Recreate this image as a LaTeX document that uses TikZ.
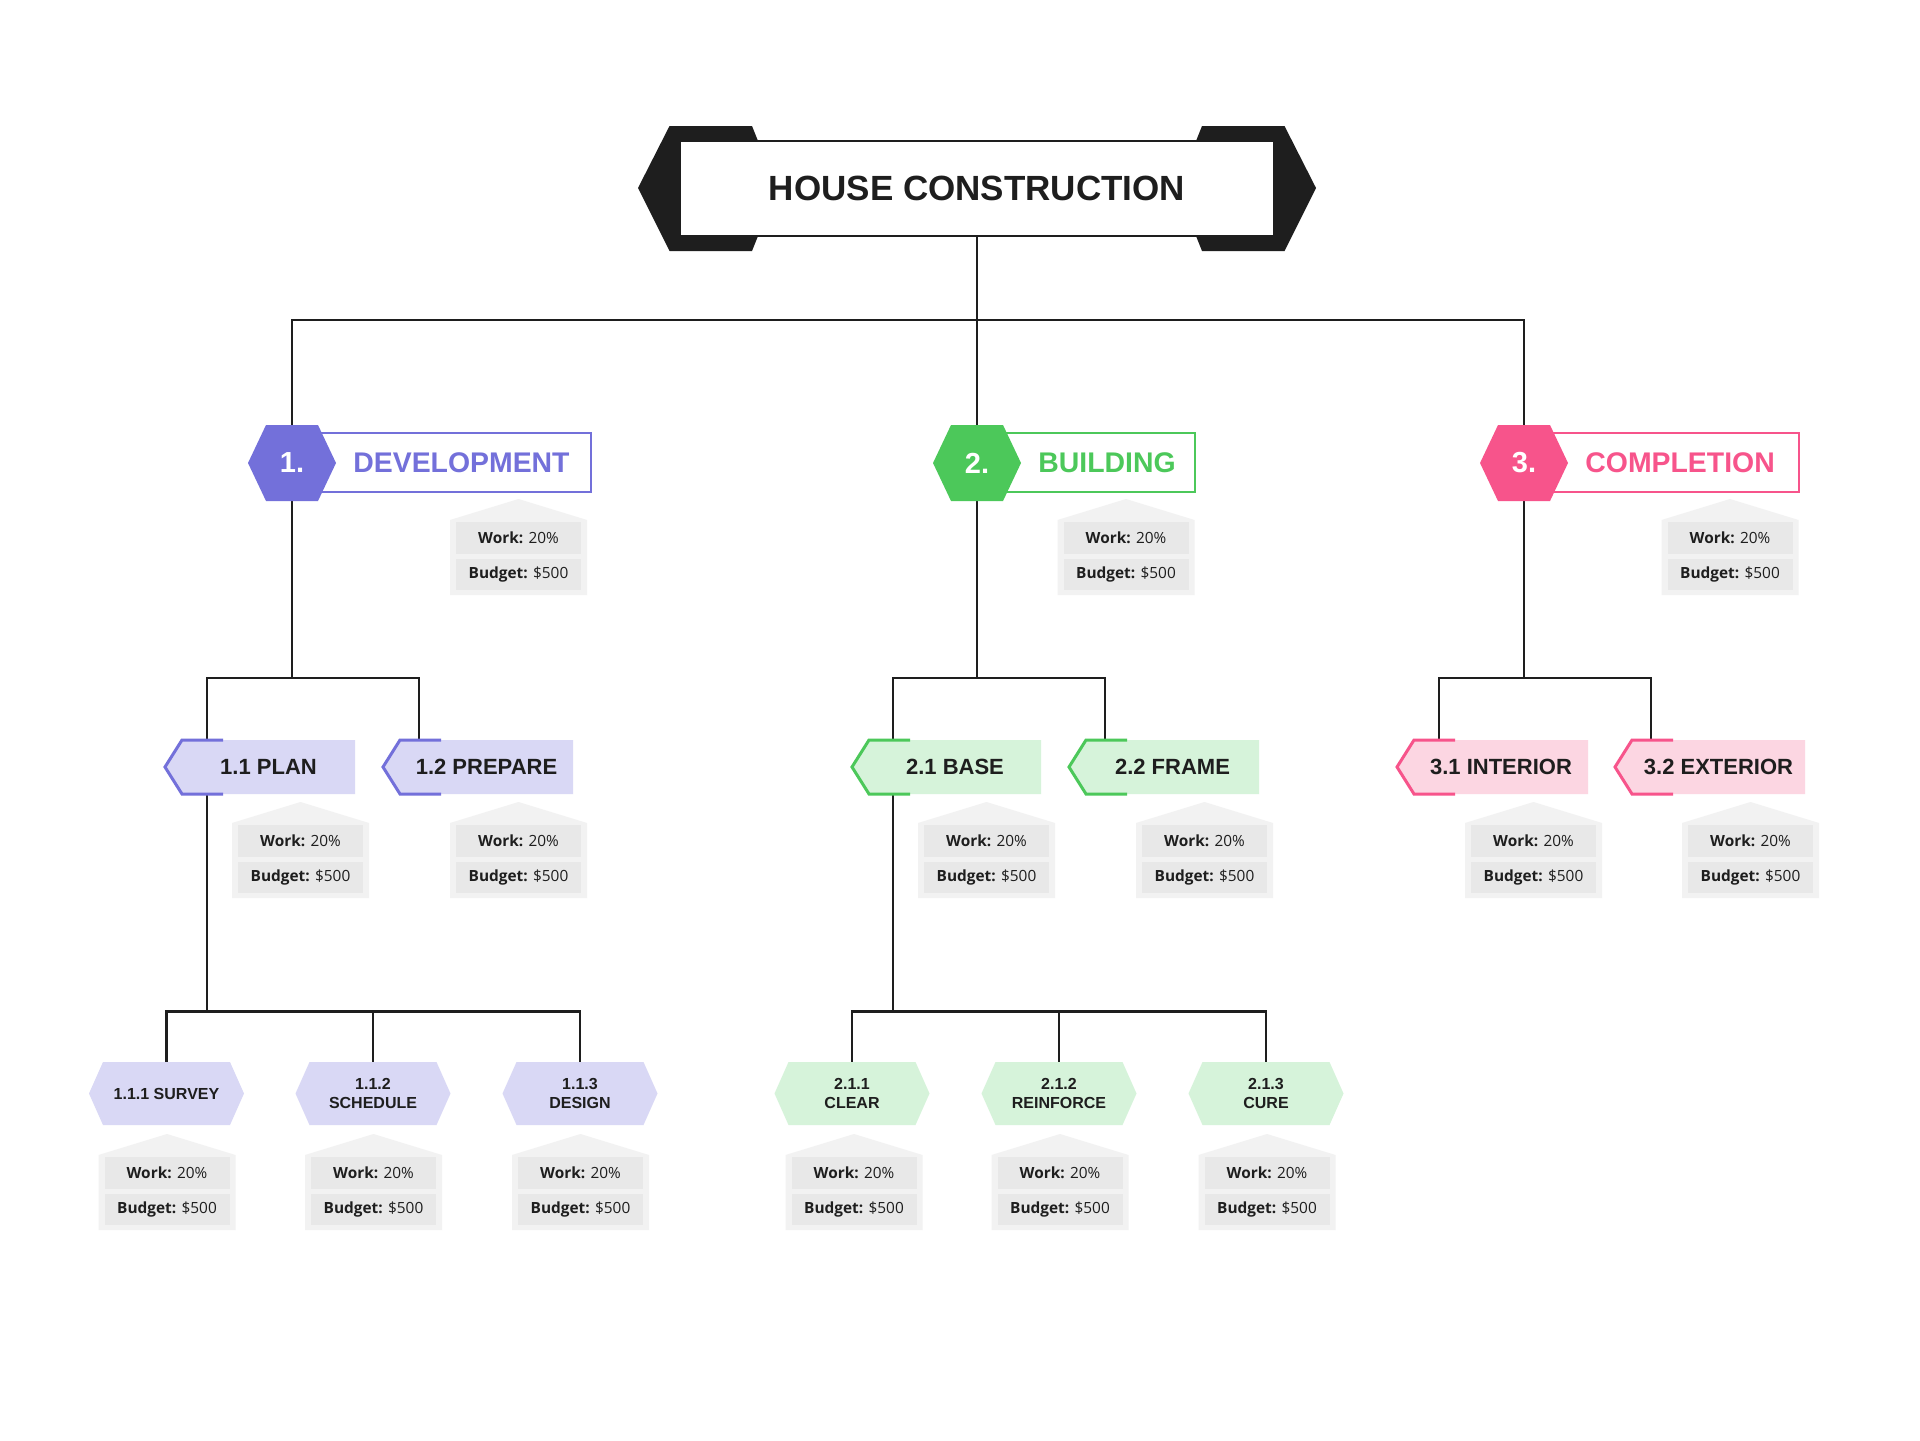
\documentclass[tikz,border=0pt]{standalone}
\usepackage{fontspec}
\setmainfont{Liberation Sans}
\newfontfamily\infofont{Open Sans}
\definecolor{purp}{HTML}{7370DA}
\definecolor{purpl}{HTML}{D9D8F5}
\definecolor{grn}{HTML}{4CC85A}
\definecolor{grnl}{HTML}{D6F3DA}
\definecolor{pnk}{HTML}{F7548B}
\definecolor{pnkl}{HTML}{FCD6E2}
\definecolor{ink}{HTML}{1E1E1E}
\definecolor{grayo}{HTML}{F2F2F2}
\definecolor{grayi}{HTML}{E8E8E8}
\pgfdeclarelayer{bg}
\pgfsetlayers{bg,main}
\tikzset{
  conn/.style={draw=ink, line width=1.1pt},
  numtext/.style={text=white, inner sep=0pt, font=\fontsize{14.5}{16}\selectfont\bfseries},
  lonetext/.style={inner sep=0pt, font=\fontsize{14.2}{16}\selectfont\bfseries},
  ltwotext/.style={inner sep=0pt, text=ink, font=\fontsize{11}{13}\selectfont\bfseries},
  lthreetext/.style={inner sep=0pt, text=ink, align=center, font=\fontsize{8}{9.5}\selectfont\bfseries},
  inforow/.style={fill=grayi, inner sep=0pt, minimum width=62.5pt, minimum height=15.75pt, text=ink, font=\infofont\fontsize{7.7}{9}\selectfont},
  titlebox/.style={draw=ink, line width=0.75pt, fill=white, minimum width=297pt, minimum height=47.5pt, inner sep=0pt, text=ink, font=\fontsize{17.5}{20}\selectfont\bfseries}
}
\newcommand{\infobox}[3]{%
  \fill[grayo] (#2-68.5,#3+21) -- (#2,#3) -- (#2+68.5,#3+21) -- (#2+68.5,#3+96) -- (#2-68.5,#3+96) -- cycle;
  \node[inforow] (#1w) at (#2,#3+39) {\textbf{Work:} 20\%};
  \node[inforow] (#1b) at (#2,#3+75.5) {\textbf{Budget:} \$500};
}
\newcommand{\lvlone}[6]{%
  \draw[#4, line width=1pt, fill=white] (#2,433) rectangle (#3,492);
  \fill[#4] (#2-44,463) -- (#2-26,425) -- (#2+26,425) -- (#2+44,463) -- (#2+26,501) -- (#2-26,501) -- cycle;
  \node[numtext] (#1) at (#2,463) {#5};
  \node[lonetext, text=#4, anchor=west] (#1l) at (#2+61,463) {#6};
}
\newcommand{\lvltwo}[7]{%
  \fill[#6] (#2,767) -- (#2+17,740) -- (#3,740) -- (#3,794) -- (#2+17,794) -- cycle;
  \draw[#5, line width=1.5pt] (#2+58,740) -- (#2+17,740) -- (#2,767) -- (#2+17,794) -- (#2+58,794);
  \node[ltwotext] (#1) at ({(#2+17+#3)/2},767) {#7};
  \coordinate (#1top) at (#4,740);
}
\newcommand{\lvlthree}[4]{%
  \fill[#3] (#2-77.5,1093.5) -- (#2-63.5,1062) -- (#2+63.5,1062) -- (#2+77.5,1093.5) -- (#2+63.5,1125) -- (#2-63.5,1125) -- cycle;
  \node[lthreetext] (#1) at (#2,1093.5) {#4};
  \coordinate (#1top) at (#2,1062);
}
\begin{document}
\begin{tikzpicture}[x=0.5pt,y=-0.5pt]
\useasboundingbox (0,0) rectangle (1920,1440);
% title
\fill[ink] (638,188) -- (669.5,126) -- (752,126) -- (758,141) -- (758,236) -- (752,251) -- (669.5,251) -- cycle;
\fill[ink] (1316,188) -- (1284.5,126) -- (1202,126) -- (1196,141) -- (1196,236) -- (1202,251) -- (1284.5,251) -- cycle;
\node[titlebox] (title) at (977,188.5) {HOUSE CONSTRUCTION};
% level 1
\lvlone{d1}{292}{591}{purp}{1.}{DEVELOPMENT}
\lvlone{b1}{977}{1195}{grn}{2.}{BUILDING}
\lvlone{c1}{1524}{1799}{pnk}{3.}{COMPLETION}
\infobox{d1i}{518.5}{499}
\infobox{b1i}{1126}{499}
\infobox{c1i}{1730}{499}
% level 2
\lvltwo{n11}{165}{355}{207}{purp}{purpl}{1.1 PLAN}
\lvltwo{n12}{383}{573}{419}{purp}{purpl}{1.2 PREPARE}
\lvltwo{n21}{852}{1041}{893}{grn}{grnl}{2.1 BASE}
\lvltwo{n22}{1069}{1259}{1105}{grn}{grnl}{2.2 FRAME}
\lvltwo{n31}{1397}{1588}{1439}{pnk}{pnkl}{3.1 INTERIOR}
\lvltwo{n32}{1615}{1805}{1651}{pnk}{pnkl}{3.2 EXTERIOR}
\infobox{n11i}{300.5}{802}
\infobox{n12i}{518.5}{802}
\infobox{n21i}{986.5}{802}
\infobox{n22i}{1204.5}{802}
\infobox{n31i}{1533.5}{802}
\infobox{n32i}{1750.5}{802}
% level 3
\lvlthree{n111}{166.5}{purpl}{1.1.1 SURVEY}
\lvlthree{n112}{373}{purpl}{1.1.2\\SCHEDULE}
\lvlthree{n113}{580}{purpl}{1.1.3\\DESIGN}
\lvlthree{n211}{852}{grnl}{2.1.1\\CLEAR}
\lvlthree{n212}{1059}{grnl}{2.1.2\\REINFORCE}
\lvlthree{n213}{1266}{grnl}{2.1.3\\CURE}
\infobox{n111i}{167}{1134}
\infobox{n112i}{373.5}{1134}
\infobox{n113i}{580.5}{1134}
\infobox{n211i}{854}{1134}
\infobox{n212i}{1060}{1134}
\infobox{n213i}{1267}{1134}
% bus junctions
\coordinate (j0) at (977,320);
\coordinate (d1bus) at (292,678);
\coordinate (b1bus) at (977,678);
\coordinate (c1bus) at (1524,678);
\coordinate (n11bus) at (207,1011.5);
\coordinate (n21bus) at (893,1011.5);
\begin{pgfonlayer}{bg}
\fill[white] (0,0) rectangle (1920,1440);
\draw[conn] (title.south) -- (b1.center);
\draw[conn] (d1.center) |- (j0) -| (c1.center);
\draw[conn] (d1.center) -- (d1bus);
\draw[conn] (n11top) |- (d1bus) -| (n12top);
\draw[conn] (b1.center) -- (b1bus);
\draw[conn] (n21top) |- (b1bus) -| (n22top);
\draw[conn] (c1.center) -- (c1bus);
\draw[conn] (n31top) |- (c1bus) -| (n32top);
\draw[conn] (n11top) -- (n11bus);
\draw[conn] (n111top) |- (n11bus) -| (n113top);
\draw[conn] (n112top) -- (n112top |- n11bus);
\draw[conn] (n21top) -- (n21bus);
\draw[conn] (n211top) |- (n21bus) -| (n213top);
\draw[conn] (n212top) -- (n212top |- n21bus);
\end{pgfonlayer}
\end{tikzpicture}
\end{document}
